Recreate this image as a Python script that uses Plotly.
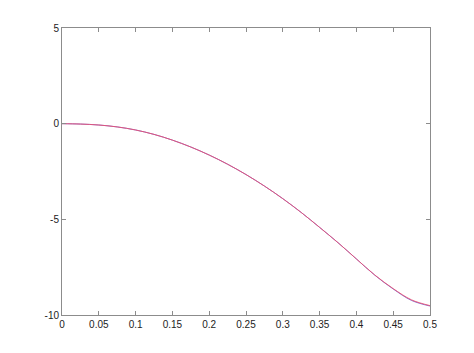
import plotly.graph_objects as go

x_vals = [0, 0.025, 0.05, 0.075, 0.1, 0.125, 0.15, 0.175, 0.2, 0.225, 0.25,
          0.275, 0.3, 0.325, 0.35, 0.375, 0.4, 0.425, 0.45, 0.475, 0.5]
y_blue = [0, -0.02, -0.07, -0.17, -0.33, -0.56, -0.86, -1.22, -1.64, -2.12, -2.66,
          -3.26, -3.92, -4.64, -5.42, -6.22, -7.07, -7.92, -8.64, -9.24, -9.53]
y_red = [0, -0.02, -0.07, -0.17, -0.33, -0.56, -0.86, -1.22, -1.64, -2.12, -2.66,
         -3.26, -3.92, -4.64, -5.42, -6.22, -7.07, -7.91, -8.62, -9.21, -9.51]

x_ticks = [0, 0.05, 0.1, 0.15, 0.2, 0.25, 0.3, 0.35, 0.4, 0.45, 0.5]
x_labels = ["0", "0.05", "0.1", "0.15", "0.2", "0.25", "0.3", "0.35", "0.4", "0.45", "0.5"]
y_ticks = [-10, -5, 0, 5]
y_labels = ["-10", "-5", "0", "5"]

fig = go.Figure()
fig.add_trace(go.Scatter(x=x_vals, y=y_blue, mode="lines",
                         line=dict(color="rgba(80,50,190,0.7)", width=1, shape="spline"),
                         showlegend=False, hoverinfo="skip"))
fig.add_trace(go.Scatter(x=x_vals, y=y_red, mode="lines",
                         line=dict(color="rgba(235,80,110,0.85)", width=1, shape="spline"),
                         showlegend=False, hoverinfo="skip"))

axis_common = dict(showgrid=False, zeroline=False, showline=True, linecolor="#8c8c8c", linewidth=1,
                   mirror="allticks", ticks="inside", ticklen=4, tickcolor="#8c8c8c",
                   tickfont=dict(family="Liberation Sans, Arial, sans-serif", size=10, color="#222"))
fig.update_xaxes(range=[0, 0.5], tickvals=x_ticks, ticktext=x_labels, **axis_common)
fig.update_yaxes(range=[-10, 5], tickvals=y_ticks, ticktext=y_labels, **axis_common)

fig.update_layout(width=474, height=353, margin=dict(l=62, r=44, t=28, b=38),
                  paper_bgcolor="white", plot_bgcolor="white")
fig.write_html("out.html")
